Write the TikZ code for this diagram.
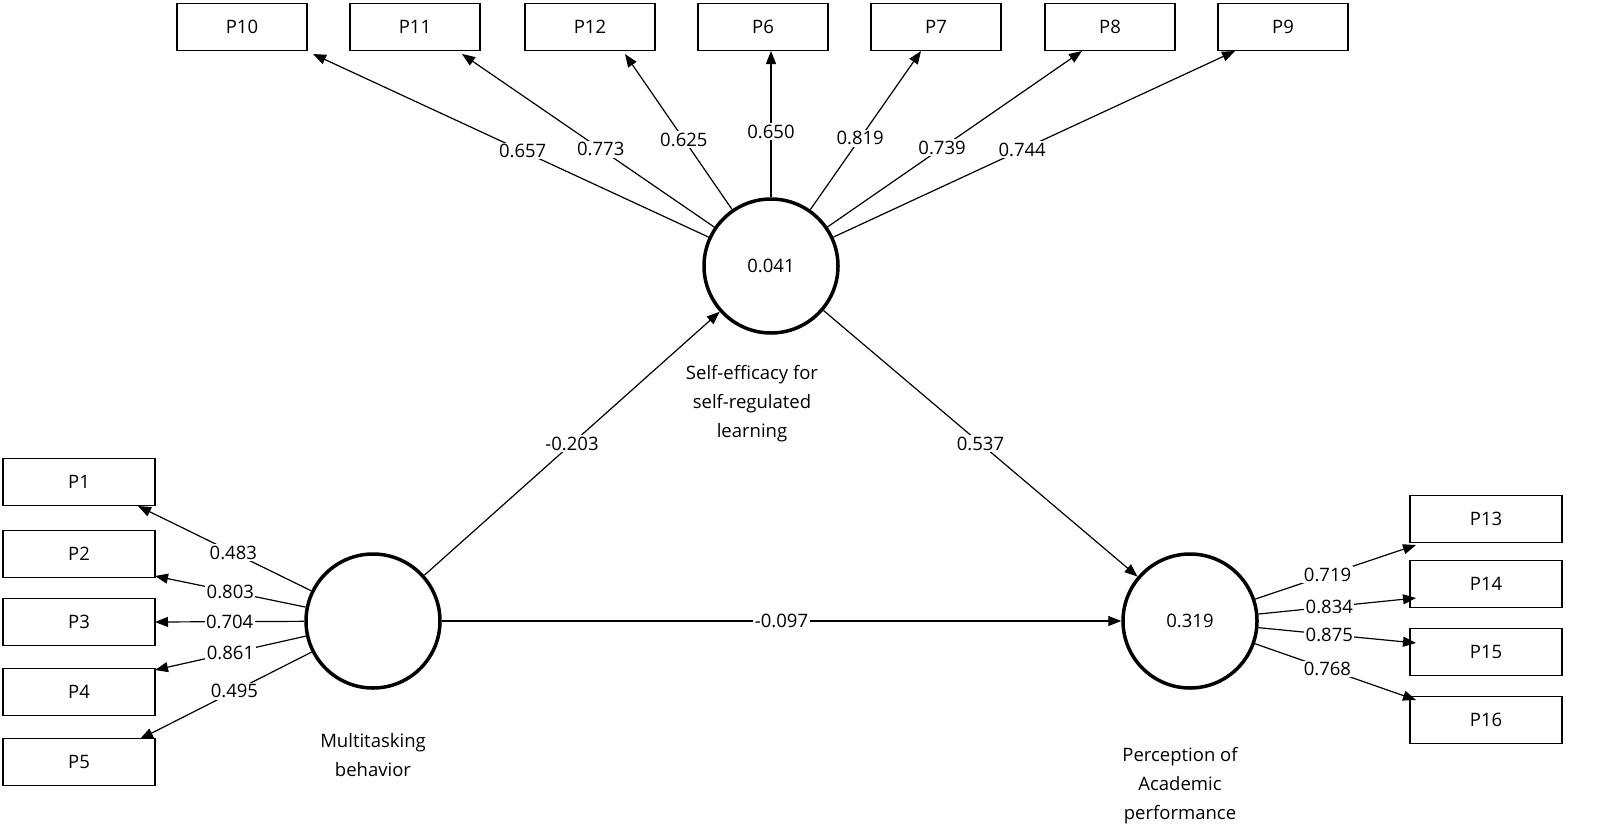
\documentclass[tikz,border=0pt]{standalone}
\usepackage{fontspec}
\setmainfont{Open Sans}
\usetikzlibrary{arrows.meta}
\begin{document}
\begin{tikzpicture}[x=1pt,y=-1pt,
  font=\fontsize{18.5}{22}\selectfont,
  box/.style={draw,line width=1.2pt,minimum width=130pt,minimum height=47pt,inner sep=0pt},
  lbox/.style={box,minimum width=152pt},
  lat/.style={draw,circle,line width=3.5pt,minimum size=134pt,inner sep=0pt},
  arr/.style={-{Triangle[length=13pt,width=10pt]},line width=1.2pt},
  lab/.style={fill=white,inner sep=1.5pt},
  nm/.style={align=center,font=\fontsize{18.5}{29}\selectfont}]
\useasboundingbox (0,0) rectangle (1605,825);
\node[lat] (se) at (771,266) {0.041};
\node[lat] (mb) at (373,621) {};
\node[lat] (pa) at (1190,621) {0.319};
\node[nm,anchor=north] (sen) at (752,362) {Self-efficacy for\\self-regulated\\learning};
\node[nm,anchor=north] (mbn) at (373,730) {Multitasking\\behavior};
\node[nm,anchor=north] (pan) at (1180,744) {Perception of\\Academic\\performance};
% top boxes
\node[box] (p10) at (242,27) {P10};
\node[box] (p11) at (415,27) {P11};
\node[box] (p12) at (590,27) {P12};
\node[box] (p6) at (763,27) {P6};
\node[box] (p7) at (936,27) {P7};
\node[box] (p8) at (1110,27) {P8};
\node[box] (p9) at (1283,27) {P9};
% left boxes
\node[lbox] (p1) at (79,482) {P1};
\node[lbox] (p2) at (79,554) {P2};
\node[lbox] (p3) at (79,622) {P3};
\node[lbox] (p4) at (79,692) {P4};
\node[lbox] (p5) at (79,762) {P5};
% right boxes
\node[lbox] (p13) at (1486,519) {P13};
\node[lbox] (p14) at (1486,584) {P14};
\node[lbox] (p15) at (1486,652) {P15};
\node[lbox] (p16) at (1486,720) {P16};
% tip coordinates
\coordinate (t10) at (313,54);
\coordinate (t11) at (462,54);
\coordinate (t12) at (625,54);
\coordinate (t6) at (771,51);
\coordinate (t7) at (921,51);
\coordinate (t8) at (1082,51);
\coordinate (t9) at (1235,51);
\coordinate (t1) at (138,506);
\coordinate (t2) at (155,576);
\coordinate (t3) at (155,622);
\coordinate (t4) at (155,670);
\coordinate (t5) at (140,739);
\coordinate (t13) at (1416,545);
\coordinate (t14) at (1416,598);
\coordinate (t15) at (1416,643);
\coordinate (t16) at (1416,700);
% top loadings
\draw[arr] (se) -- node[lab,pos=0.47]{0.657} (t10);
\draw[arr] (se) -- node[lab,pos=0.45]{0.773} (t11);
\draw[arr] (se) -- node[lab,pos=0.45]{0.625} (t12);
\draw[arr] (se) -- node[lab,pos=0.45]{0.650} (t6);
\draw[arr] (se) -- node[lab,pos=0.45]{0.819} (t7);
\draw[arr] (se) -- node[lab,pos=0.45]{0.739} (t8);
\draw[arr] (se) -- node[lab,pos=0.47]{0.744} (t9);
% left loadings
\draw[arr] (mb) -- node[lab,pos=0.45]{0.483} (t1);
\draw[arr] (mb) -- node[lab,pos=0.5]{0.803} (t2);
\draw[arr] (mb) -- node[lab,pos=0.5]{0.704} (t3);
\draw[arr] (mb) -- node[lab,pos=0.5]{0.861} (t4);
\draw[arr] (mb) -- node[lab,pos=0.45]{0.495} (t5);
% right loadings
\draw[arr] (pa) -- node[lab,pos=0.45]{0.719} (t13);
\draw[arr] (pa) -- node[lab,pos=0.45]{0.834} (t14);
\draw[arr] (pa) -- node[lab,pos=0.45]{0.875} (t15);
\draw[arr] (pa) -- node[lab,pos=0.45]{0.768} (t16);
% paths
\draw[arr] (mb) -- node[lab,pos=0.5]{-0.203} (se);
\draw[arr] (se) -- node[lab,pos=0.5]{0.537} (pa);
\draw[arr] (mb) -- node[lab,pos=0.5]{-0.097} (pa);
\end{tikzpicture}
\end{document}
